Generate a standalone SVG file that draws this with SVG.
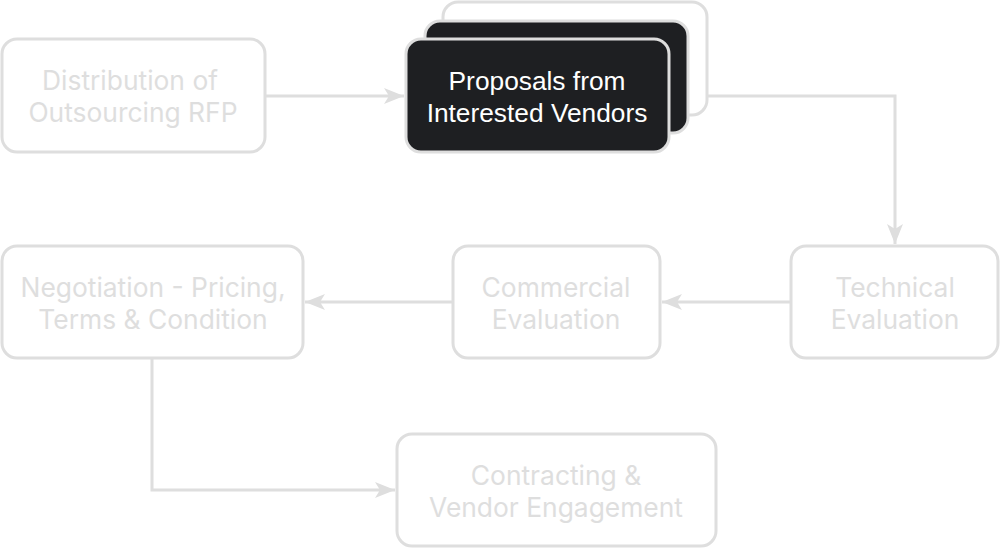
<svg xmlns="http://www.w3.org/2000/svg" width="1000" height="552" viewBox="0 0 1000 552">
<defs>
<style>
.box{fill:#ffffff;stroke:#dedede;stroke-width:3}
.dark{fill:#1e1f22;stroke:#dedede;stroke-width:3}
.lbl{font-family:Inter,"Liberation Sans",sans-serif;font-size:26.4px;fill:#dedede;text-anchor:middle}
.lblw{font-family:"Liberation Sans",Arial,sans-serif;font-size:26.3px;fill:#ffffff;text-anchor:middle}
.edge{fill:none;stroke:#dedede;stroke-width:3}
</style>
<marker id="arr" viewBox="0 0 20 20" refX="20" refY="10" markerWidth="20" markerHeight="20" markerUnits="userSpaceOnUse" orient="auto">
<path d="M0,2 L20,10 L0,18 L5,10 z" fill="#dedede"/>
</marker>
</defs>
<g id="connectors">
<path class="edge" d="M265,96 H404" marker-end="url(#arr)"/>
<path class="edge" d="M669,96 H895 V244" marker-end="url(#arr)"/>
<path class="edge" d="M791,302 H662" marker-end="url(#arr)"/>
<path class="edge" d="M453,302 H305" marker-end="url(#arr)"/>
<path class="edge" d="M152,358 V490 H395" marker-end="url(#arr)"/>
</g>
<g id="n1">
<rect class="box" x="2" y="39" width="263" height="113" rx="15"/>
<text class="lbl" x="130" y="90">Distribution of</text>
<text class="lbl" x="133" y="122">Outsourcing RFP</text>
</g>
<g id="n2">
<rect class="box" x="443" y="2" width="264" height="113" rx="15"/>
<rect class="dark" x="425" y="21" width="263" height="112" rx="15"/>
<rect class="dark" x="406" y="39" width="263" height="113" rx="15"/>
<text class="lblw" x="537" y="90">Proposals from</text>
<text class="lblw" x="537" y="122">Interested Vendors</text>
</g>
<g id="n3">
<rect class="box" x="791" y="246" width="207" height="112" rx="15"/>
<text class="lbl" x="895" y="297">Technical</text>
<text class="lbl" x="895" y="329">Evaluation</text>
</g>
<g id="n4">
<rect class="box" x="453" y="246" width="207" height="112" rx="15"/>
<text class="lbl" x="556" y="297">Commercial</text>
<text class="lbl" x="556" y="329">Evaluation</text>
</g>
<g id="n5">
<rect class="box" x="2" y="246" width="301" height="112" rx="15"/>
<text class="lbl" x="153" y="297">Negotiation - Pricing,</text>
<text class="lbl" x="153" y="329">Terms &amp; Condition</text>
</g>
<g id="n6">
<rect class="box" x="397" y="434" width="319" height="112" rx="15"/>
<text class="lbl" x="556" y="485">Contracting &amp;</text>
<text class="lbl" x="556" y="517">Vendor Engagement</text>
</g>
</svg>
